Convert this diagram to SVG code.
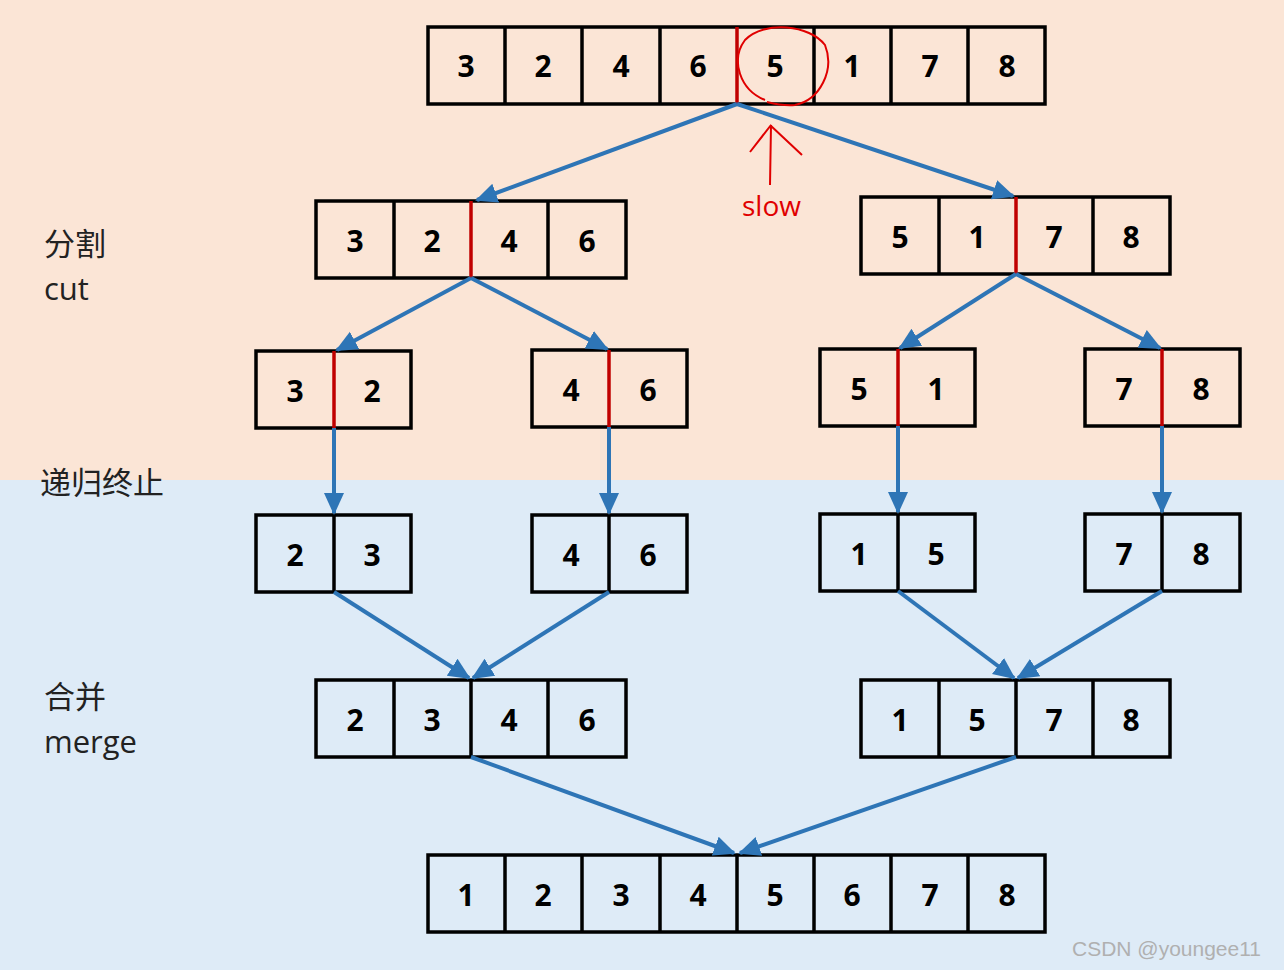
<svg xmlns="http://www.w3.org/2000/svg" width="1284" height="970" viewBox="0 0 1284 970">
<style>
.c{fill:none;stroke:#000;stroke-width:3.5}
.d{stroke:#C00000;stroke-width:3.5}
.n{font-family:"Open Sans","DejaVu Sans",sans-serif;font-weight:bold;font-size:30px;text-anchor:middle}
.l{font-family:"Open Sans","Noto Sans CJK SC",sans-serif;font-size:31px;fill:#222}
.a{stroke:#2E75B6;stroke-width:4;fill:none;marker-end:url(#ah)}
</style>
<defs><marker id="ah" markerWidth="6" markerHeight="6" refX="5" refY="3" orient="auto" markerUnits="strokeWidth"><path d="M0,0.5 L5.5,3 L0,5.5 z" fill="#2E75B6"/></marker></defs>
<rect width="1284" height="480" fill="#FBE5D6"/>
<rect y="480" width="1284" height="490" fill="#DEEBF7"/>
<g id="labels">
<text class="l" x="44" y="255">分割</text><text class="l" x="44" y="300">cut</text>
<text class="l" x="40" y="494">递归终止</text>
<text class="l" x="44" y="708">合并</text><text class="l" x="44" y="753">merge</text>
<text x="742" y="216" font-family="Open Sans,sans-serif" font-size="28" fill="#E00000">slow</text>
<text x="1072" y="956" font-family="Liberation Sans,sans-serif" font-size="21" fill="#B0B0B0">CSDN @youngee11</text>
</g>
<g id="top">
<rect class="c" x="428" y="27" width="617" height="77"/>
<path class="c" d="M505,27V104M582,27V104M660,27V104M814,27V104M891,27V104M968,27V104"/>
<line class="d" x1="737" y1="27" x2="737" y2="104"/>
<g class="n"><text x="466" y="77">3</text><text x="543" y="77">2</text><text x="621" y="77">4</text><text x="698" y="77">6</text><text x="775" y="77">5</text><text x="852" y="77">1</text><text x="930" y="77">7</text><text x="1007" y="77">8</text></g>
<path d="M765,100 C740,90 730,60 745,40 C765,20 810,25 825,45 C835,70 820,100 795,105 C785,106 775,104 767,102" fill="none" stroke="#E00000" stroke-width="2"/>
<path d="M770,185 L771,125 M771,125 L750,152 M770,125 L802,155" fill="none" stroke="#E00000" stroke-width="2"/>
</g>
<g id="r2l"><rect class="c" x="316" y="201" width="310" height="77"/><path class="c" d="M394,201V278M548,201V278"/><line class="d" x1="471" y1="201" x2="471" y2="278"/>
<g class="n"><text x="355" y="252">3</text><text x="432" y="252">2</text><text x="509" y="252">4</text><text x="587" y="252">6</text></g></g>
<g id="r2r"><rect class="c" x="861" y="197" width="309" height="77"/><path class="c" d="M939,197V274M1093,197V274"/><line class="d" x1="1016" y1="197" x2="1016" y2="274"/>
<g class="n"><text x="900" y="248">5</text><text x="977" y="248">1</text><text x="1054" y="248">7</text><text x="1131" y="248">8</text></g></g>
<g id="r3a"><rect class="c" x="256" y="351" width="155" height="77"/><line class="d" x1="334" y1="351" x2="334" y2="428"/><g class="n"><text x="295" y="402">3</text><text x="372" y="402">2</text></g></g>
<g id="r3b"><rect class="c" x="532" y="350" width="155" height="77"/><line class="d" x1="609" y1="350" x2="609" y2="427"/><g class="n"><text x="571" y="401">4</text><text x="648" y="401">6</text></g></g>
<g id="r3c"><rect class="c" x="820" y="349" width="155" height="77"/><line class="d" x1="898" y1="349" x2="898" y2="426"/><g class="n"><text x="859" y="400">5</text><text x="936" y="400">1</text></g></g>
<g id="r3d"><rect class="c" x="1085" y="349" width="155" height="77"/><line class="d" x1="1162" y1="349" x2="1162" y2="426"/><g class="n"><text x="1124" y="400">7</text><text x="1201" y="400">8</text></g></g>
<g id="r4a"><rect class="c" x="256" y="515" width="155" height="77"/><line class="c" x1="334" y1="515" x2="334" y2="592"/><g class="n"><text x="295" y="566">2</text><text x="372" y="566">3</text></g></g>
<g id="r4b"><rect class="c" x="532" y="515" width="155" height="77"/><line class="c" x1="609" y1="515" x2="609" y2="592"/><g class="n"><text x="571" y="566">4</text><text x="648" y="566">6</text></g></g>
<g id="r4c"><rect class="c" x="820" y="514" width="155" height="77"/><line class="c" x1="898" y1="514" x2="898" y2="591"/><g class="n"><text x="859" y="565">1</text><text x="936" y="565">5</text></g></g>
<g id="r4d"><rect class="c" x="1085" y="514" width="155" height="77"/><line class="c" x1="1162" y1="514" x2="1162" y2="591"/><g class="n"><text x="1124" y="565">7</text><text x="1201" y="565">8</text></g></g>
<g id="r5l"><rect class="c" x="316" y="680" width="310" height="77"/><path class="c" d="M394,680V757M471,680V757M548,680V757"/>
<g class="n"><text x="355" y="731">2</text><text x="432" y="731">3</text><text x="509" y="731">4</text><text x="587" y="731">6</text></g></g>
<g id="r5r"><rect class="c" x="861" y="680" width="309" height="77"/><path class="c" d="M939,680V757M1016,680V757M1093,680V757"/>
<g class="n"><text x="900" y="731">1</text><text x="977" y="731">5</text><text x="1054" y="731">7</text><text x="1131" y="731">8</text></g></g>
<g id="bottom"><rect class="c" x="428" y="855" width="617" height="77"/>
<path class="c" d="M505,855V932M582,855V932M660,855V932M737,855V932M814,855V932M891,855V932M968,855V932"/>
<g class="n"><text x="466" y="906">1</text><text x="543" y="906">2</text><text x="621" y="906">3</text><text x="698" y="906">4</text><text x="775" y="906">5</text><text x="852" y="906">6</text><text x="930" y="906">7</text><text x="1007" y="906">8</text></g></g>
<g id="connectors">
<path class="a" d="M737,104L477,200"/><path class="a" d="M737,104L1013,196"/>
<path class="a" d="M471,278L337,350"/><path class="a" d="M471,278L607,349"/>
<path class="a" d="M1016,274L900,348"/><path class="a" d="M1016,274L1160,348"/>
<path class="a" d="M334,428V513"/><path class="a" d="M609,427V513"/><path class="a" d="M898,426V512"/><path class="a" d="M1162,426V512"/>
<path class="a" d="M334,592L469,678"/><path class="a" d="M609,592L473,678"/>
<path class="a" d="M898,591L1014,678"/><path class="a" d="M1162,591L1018,678"/>
<path class="a" d="M471,757L734,853"/><path class="a" d="M1016,757L740,853"/>
</g>
</svg>
